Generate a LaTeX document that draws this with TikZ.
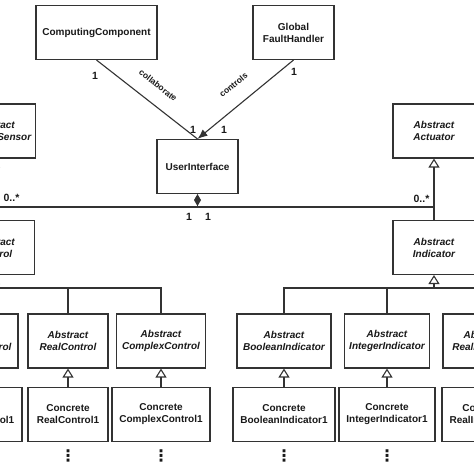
\documentclass[tikz,border=0pt]{standalone}
\usepackage{fontspec}
\setmainfont{Liberation Sans}
\newfontfamily\symfont{DejaVu Sans}
\usetikzlibrary{arrows.meta,positioning}

\begin{document}
\begin{tikzpicture}[x=1pt,y=-1pt,
  line width=1.1pt,
  cls/.style={draw=black!80,line width=1.1pt,minimum height=54pt,align=center,
              text=black!90,font=\fontsize{10}{12}\selectfont\bfseries},
  abs/.style={cls,font=\fontsize{10}{12}\selectfont\bfseries\itshape},
  mult/.style={text=black!90,font=\fontsize{10.5}{12}\selectfont\bfseries},
  role/.style={text=black!90,font=\fontsize{8.5}{10}\selectfont\bfseries},
  ln/.style={draw=black!80,line width=1.1pt},
  inh/.style={ln,-{Triangle[open,length=9pt,width=11pt]}},
  dots/.style={text=black!90,inner sep=0pt,font=\symfont\bfseries\fontsize{16}{16}\selectfont}]

\useasboundingbox (0,0) rectangle (474,474);
\fill[white] (0,0) rectangle (474,474);
\clip (0,0) rectangle (474,474);

% top: collaborating classes
\node[cls,minimum width=121pt] (cc) at (96.5,32.5) {ComputingComponent};
\node[cls,minimum width=81pt] (gfh) at (293.5,32.5) {Global\\FaultHandler};
\node[cls,minimum width=81pt] (ui) at (197.5,166.5) {UserInterface};

% abstract sides
\node[abs,minimum width=82pt] (asen) at (-5.5,131) {Abstract\\BooleanSensor};
\node[abs,minimum width=82pt] (aact) at (434,131) {Abstract\\Actuator};
\node[abs,minimum width=80pt] (actl) at (-5.5,247.5) {Abstract\\Control};
\node[abs,minimum width=82pt] (aind) at (434,247.5) {Abstract\\Indicator};

% abstract kinds
\node[abs,minimum width=88pt] (abc) at (-26,341) {Abstract\\BooleanControl};
\node[abs,minimum width=80pt] (arc) at (68,341) {Abstract\\RealControl};
\node[abs,minimum width=89pt] (acc) at (161,341) {Abstract\\ComplexControl};
\node[abs,minimum width=94pt] (abi) at (284,341) {Abstract\\BooleanIndicator};
\node[abs,minimum width=85pt] (aii) at (387,341) {Abstract\\IntegerIndicator};
\node[abs,minimum width=82pt] (ari) at (484,341) {Abstract\\RealIndicator};

% concrete kinds
\node[cls,minimum width=96pt,below=18pt of abc] (cbc) {Concrete\\BooleanControl1};
\node[cls,minimum width=80pt,below=18pt of arc] (crc) {Concrete\\RealControl1};
\node[cls,minimum width=98pt,below=18pt of acc] (ccc) {Concrete\\ComplexControl1};
\node[cls,minimum width=102pt,below=18pt of abi] (cbi) {Concrete\\BooleanIndicator1};
\node[cls,minimum width=96pt,below=18pt of aii] (cii) {Concrete\\IntegerIndicator1};
\node[cls,minimum width=84pt,below=18pt of ari] (cri) {Concrete\\RealIndicator1};
\foreach \n in {cbc,crc,ccc,cbi,cii,cri}
  \node[dots,below=8pt of \n] {⋮};

% associations
\draw[ln] (cc.south) -- node[role,sloped,above=11pt] {collaborate} (ui.north);
\draw[ln,{Latex[length=10pt,width=8pt]}-] (ui.north) -- node[role,sloped,above=12pt] {controls} (gfh.south);
\node[mult] at (95,76) {1};
\node[mult] at (193,130) {1};
\node[mult] at (224,130) {1};
\node[mult] at (294,72) {1};

% composition bar
\coordinate (lj) at (asen |- 0,207);
\coordinate (rj) at (aact |- 0,207);
\draw[ln] (lj) -- (rj);
\draw[ln,{Diamond[length=12pt,width=7pt]}-] (ui) -- (ui |- lj);
\node[mult] at (189,217) {1};
\node[mult] at (208,217) {1};
\node[mult] at (11.5,198) {0..*};
\node[mult] at (421.5,199) {0..*};

% generalisations
\draw[inh] (actl) -- (asen);
\draw[inh] (aind) -- (aact);
\coordinate (cbar) at (actl.south |- 0,288);
\coordinate (ibar) at (aind.south |- 0,288);
\draw[inh] (cbar) -- (actl);
\draw[inh] (ibar) -- (aind);
\draw[ln] (abc.north) |- (acc.north |- cbar) -- (acc.north);
\draw[ln] (arc.north) -- (arc.north |- cbar);
\draw[ln] (abi.north) |- (ari.north |- ibar) -- (ari.north);
\draw[ln] (aii.north) -- (aii.north |- ibar);
\foreach \a/\c in {abc/cbc,arc/crc,acc/ccc,abi/cbi,aii/cii,ari/cri}
  \draw[inh] (\c) -- (\a);
\end{tikzpicture}
\end{document}
